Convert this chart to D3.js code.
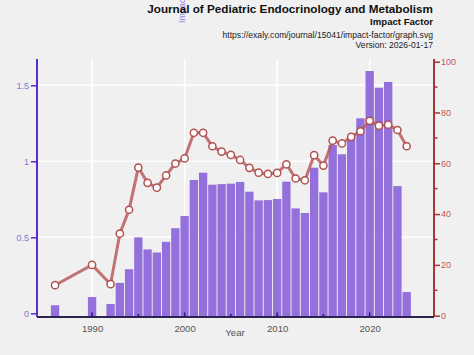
<!DOCTYPE html>
<html><head><meta charset="utf-8">
<script src="https://cdn.jsdelivr.net/npm/d3@7"></script>
<style>
html,body{margin:0;padding:0;background:#f0f0f0;}
svg{display:block;font-family:"Liberation Sans",Arial,sans-serif;}
</style></head>
<body>
<svg id="chart" width="474" height="355"></svg>
<script>
const barYears = [1986,1990,1992,1993,1994,1995,1996,1997,1998,1999,2000,2001,2002,2003,2004,2005,2006,2007,2008,2009,2010,2011,2012,2013,2014,2015,2016,2017,2018,2019,2020,2021,2022,2023,2024];
const impactFactor = [0.053,0.107,0.061,0.20,0.29,0.50,0.42,0.40,0.47,0.56,0.64,0.877,0.925,0.846,0.85,0.853,0.864,0.80,0.743,0.745,0.752,0.866,0.69,0.66,0.958,0.796,1.107,1.046,1.151,1.283,1.594,1.484,1.522,0.837,0.14];
const lineYears = [1986,1990,1992,1993,1994,1995,1996,1997,1998,1999,2000,2001,2002,2003,2004,2005,2006,2007,2008,2009,2010,2011,2012,2013,2014,2015,2016,2017,2018,2019,2020,2021,2022,2023,2024];
const percentile = [12,20,12.4,32.3,41.7,58.3,52.3,50.4,55.2,59.9,61.9,72,72,66.7,64.6,63.3,61.3,58.2,56.3,55.8,56.2,59.6,54,53.3,63.2,59.1,68.9,67.8,70.4,72.6,76.7,74.8,75.2,73.1,66.7];
const leftTicks = [0,0.5,1,1.5];
const leftTickLabels = ["0","0.5","1","1.5"];
const rightTicks = [0,20,40,60,80,100];
const rightMinorTicks = [10,30,50,70,90];
const xTicks = [1990,2000,2010,2020];
const xMinorTicks = [1995,2005,2015];
const titleText = "Journal of Pediatric Endocrinology and Metabolism";
const subtitleText = "Impact Factor";
const urlText = "https://exaly.com/journal/15041/impact-factor/graph.svg";
const versionText = "Version: 2026-01-17";
const xLabel = "Year";
const yLabel = "Impact Factor";

const svg = d3.select("#chart");
const L = 37, R = 434, T = 59, B = 317;
const x = d3.scaleLinear().domain([1984.05, 2026.95]).range([L, R]);
const yL = d3.scaleLinear().domain([-0.0243, 1.673]).range([B, T]);
const yR = d3.scaleLinear().domain([-0.52, 101.05]).range([B, T]);
const step = x(1) - x(0);

svg.append("rect").attr("width",474).attr("height",355).attr("fill","#f0f0f0");

// y-axis label (rotated, mostly off-canvas as in the reference)
svg.append("text").attr("transform","translate(185,23) rotate(-90)")
  .attr("font-size",9).attr("fill","#9a86d8").text(yLabel);

// grid
const grid = svg.append("g");
grid.selectAll("line.h").data(leftTicks.filter(d=>d>0)).join("line")
  .attr("x1",L).attr("x2",R).attr("y1",d=>yL(d)).attr("y2",d=>yL(d))
  .attr("stroke","#ffffff").attr("stroke-width",1.6);
grid.selectAll("line.v").data(xTicks).join("line")
  .attr("y1",T).attr("y2",B).attr("x1",d=>x(d)).attr("x2",d=>x(d))
  .attr("stroke","#ffffff").attr("stroke-width",1.6);

// bars
svg.append("g").selectAll("rect").data(barYears.map((yr,i)=>({yr,v:impactFactor[i]}))).join("rect")
  .attr("x",d=>x(d.yr)-step*0.45).attr("width",step*0.9)
  .attr("y",d=>yL(d.v)).attr("height",d=>yL.range()[0]-yL(d.v))
  .attr("fill","#9370db");

// line
const pts = lineYears.map((yr,i)=>({yr,v:percentile[i]}));
svg.append("path").datum(pts)
  .attr("d",d3.line().x(d=>x(d.yr)).y(d=>yR(d.v)))
  .attr("fill","none").attr("stroke","#b85c5c").attr("stroke-opacity",0.85).attr("stroke-width",3);
svg.append("g").selectAll("circle").data(pts).join("circle")
  .attr("cx",d=>x(d.yr)).attr("cy",d=>yR(d.v)).attr("r",3.6)
  .attr("fill","#ffffff").attr("stroke","#b05050").attr("stroke-width",1.5);

// left axis
const la = svg.append("g").attr("transform",`translate(${L},0)`)
  .call(d3.axisLeft(yL).tickValues(leftTicks).tickFormat((d,i)=>leftTickLabels[i]).tickSize(6).tickPadding(2));
la.select(".domain").attr("d",`M0,${T}V${B}`).attr("stroke","#5a30c8").attr("stroke-width",2);
la.selectAll(".tick line").attr("stroke","#5a30c8").attr("stroke-width",1.5);
la.selectAll(".tick text").attr("fill","#8a72d6").attr("font-size",9).attr("font-family","Liberation Sans, Arial, sans-serif");

// right axis
const ra = svg.append("g").attr("transform",`translate(${R},0)`)
  .call(d3.axisRight(yR).tickValues(rightTicks).tickSize(6).tickPadding(1));
ra.select(".domain").attr("d",`M0,${T}V${B}`).attr("stroke","#a83838").attr("stroke-width",2);
ra.selectAll(".tick line").attr("stroke","#a83838").attr("stroke-width",1.5);
ra.selectAll(".tick text").attr("fill","#c05858").attr("font-size",9).attr("font-family","Liberation Sans, Arial, sans-serif");
ra.append("g").selectAll("line").data(rightMinorTicks).join("line")
  .attr("x1",0).attr("x2",3.5).attr("y1",d=>yR(d)).attr("y2",d=>yR(d))
  .attr("stroke","#a83838").attr("stroke-width",1.5);

// bottom axis
const ba = svg.append("g").attr("transform",`translate(0,${B})`)
  .call(d3.axisBottom(x).tickValues(xTicks).tickFormat(d3.format("d")).tickSize(0).tickPadding(8.5));
ba.select(".domain").attr("d",`M${L},0H${R}`).attr("stroke","#2e2350").attr("stroke-width",2);
ba.selectAll(".tick text").attr("fill","#555555").attr("font-size",9.6).attr("font-family","Liberation Sans, Arial, sans-serif");
ba.append("g").selectAll("line").data(xTicks).join("line")
  .attr("x1",d=>x(d)).attr("x2",d=>x(d)).attr("y1",0).attr("y2",-4.5)
  .attr("stroke","#24187a").attr("stroke-width",1.5);
ba.append("g").selectAll("line").data(xMinorTicks).join("line")
  .attr("x1",d=>x(d)).attr("x2",d=>x(d)).attr("y1",0).attr("y2",-3)
  .attr("stroke","#24187a").attr("stroke-width",1.5);

svg.append("text").attr("x",235).attr("y",336).attr("text-anchor","middle")
  .attr("font-size",9.6).attr("fill","#555555").text(xLabel);

// titles
const tg = svg.append("g").attr("text-anchor","end");
tg.append("text").attr("x",433).attr("y",13).attr("font-size",11.7).attr("font-weight","bold").attr("fill","#111").text(titleText);
tg.append("text").attr("x",433).attr("y",25).attr("font-size",9.6).attr("font-weight","bold").attr("fill","#111").text(subtitleText);
tg.append("text").attr("x",433).attr("y",37.5).attr("font-size",8.6).attr("fill","#222").text(urlText);
tg.append("text").attr("x",433).attr("y",48).attr("font-size",8.6).attr("fill","#222").text(versionText);
</script>
</body></html>
